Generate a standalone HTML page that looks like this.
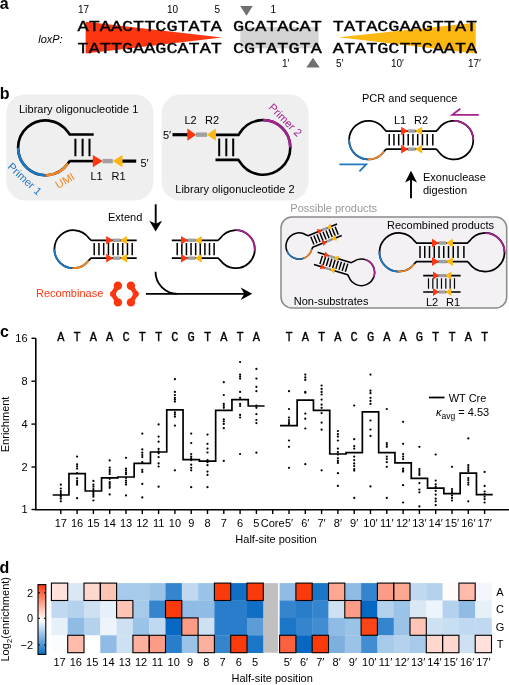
<!DOCTYPE html><html><head><meta charset="utf-8"><title>loxP library figure</title><style>html,body{margin:0;padding:0;background:#fff}svg{display:block}text{font-family:"Liberation Sans",Arial,sans-serif;font-size:11px;fill:#000}.m{font-family:"Liberation Mono","Courier New",monospace}.b{font-weight:bold;font-size:16px}</style></head><body>
<svg width="509" height="685" viewBox="0 0 509 685">
<rect width="509" height="685" fill="#fff"/>
<g id="pa">
<text class="b" x="-0.3" y="8.5">a</text>
<path d="M85.6,21.7L222,37.5L85.6,53.4Z" fill="#fc3610"/>
<rect x="240.3" y="27.2" width="78.3" height="21.1" fill="#d4d4d4"/>
<path d="M475.7,22.8L338.4,37.3L475.7,53.4Z" fill="#fcb711"/>
<text class="m" transform="translate(77.6,31.1) scale(1,0.84)" style="font-size:18.5px;stroke:#000;stroke-width:0.45px" xml:space="preserve">ATAACTTCGTATA GCATACAT TATACGAAGTTAT</text>
<text class="m" transform="translate(77.6,52.9) scale(1,0.84)" style="font-size:18.5px;stroke:#000;stroke-width:0.45px" xml:space="preserve">TATTGAAGCATAT CGTATGTA ATATGCTTCAATA</text>
<text x="38.2" y="43.2" style="font-size:11px;font-style:italic">loxP:</text>
<text x="78" y="12.5" style="font-size:10px">17</text>
<text x="167" y="12.5" style="font-size:10px">10</text>
<text x="214.5" y="12.5" style="font-size:10px">5</text>
<text x="270.5" y="12.5" style="font-size:10px">1</text>
<text x="282" y="66.5" style="font-size:10px">1′</text>
<text x="336" y="66.5" style="font-size:10px">5′</text>
<text x="391" y="66.5" style="font-size:10px">10′</text>
<text x="468" y="66.5" style="font-size:10px">17′</text>
<path d="M240.2,6H252.8L246.5,15.8Z" fill="#707070"/>
<path d="M306.3,67.6H319.7L313,57.8Z" fill="#707070"/>
</g>
<g id="pb">
<text class="b" x="-0.3" y="98.6">b</text>
<rect x="6.3" y="94.4" width="147.2" height="106.2" rx="19" fill="#f0eff0"/>
<rect x="161.6" y="94.4" width="147" height="106.2" rx="19" fill="#f0eff0"/>
<text x="19" y="113">Library oligonucleotide 1</text>
<text x="175.3" y="193">Library oligonucleotide 2</text>
<g transform="translate(45.5,147.8)">
<path d="M48.2,-13.3L24.2,-13.3L22.44,-15.72A27.4,27.4 0 1 0 22.44,15.72L24.2,13.3" stroke="#000" stroke-width="2.6" fill="none" stroke-linejoin="round"/>
<path d="M-27.4,0A27.4,27.4 0 0 0 0,27.4" stroke="#1f78c1" stroke-width="2.6" fill="none"/>
<path d="M0,27.4A27.4,27.4 0 0 0 22.44,15.72" stroke="#ee8a2a" stroke-width="2.6" fill="none"/>
<path d="M29.9,-9V8.5M37.1,-9V8.5M44,-9V8.5" stroke="#000" stroke-width="2.0" fill="none"/>
<path d="M23.7,13.3H48" stroke="#000" stroke-width="2.6"/>
<path d="M75,13.3H90.7" stroke="#000" stroke-width="3.2"/>
<path d="M47.3,7.2L57.3,13.3L47.3,19.4Z" fill="#fc3610"/><rect x="57" y="11.1" width="10.3" height="4.4" fill="#a0a0a0"/><path d="M77,7.2L67,13.3L77,19.4Z" fill="#fcb711"/>
</g>
<text x="90.5" y="180">L1</text><text x="111.5" y="180">R1</text>
<text x="140.5" y="167">5′</text>
<text transform="translate(7,167.5) rotate(43)" style="fill:#1f78c1">Primer 1</text>
<text transform="translate(58,189) rotate(-30)" style="fill:#ee8a2a">UMI</text>
<g transform="translate(263,147.4) scale(-1,1)">
<path d="M47.5,12.5L24.5,12.5L22.9,14.87A27.3,27.3 0 1 1 22.9,-14.87L24.5,-12.5L47.5,-12.5" stroke="#000" stroke-width="2.6" fill="none" stroke-linejoin="round"/>
<path d="M0,-27.3A27.3,27.3 0 0 0 -27.3,-0" stroke="#a3238e" stroke-width="2.6" fill="none"/>
<path d="M29.8,-8.8V8.8M36.7,-8.8V8.8M43.8,-8.8V8.8" stroke="#000" stroke-width="2.0" fill="none"/>
</g>
<path d="M172.5,134.7H188" stroke="#000" stroke-width="3.2"/>
<path d="M187.3,128.6L196.3,134.7L187.3,140.8Z" fill="#fc3610"/><rect x="196" y="132.5" width="11.1" height="4.4" fill="#a0a0a0"/><path d="M215.8,128.6L206.8,134.7L215.8,140.8Z" fill="#fcb711"/>
<text x="163" y="138.5">5′</text>
<text x="184.5" y="124">L2</text><text x="205" y="124">R2</text>
<text transform="translate(268,108) rotate(45)" style="fill:#a3238e">Primer 2</text>
<text x="108" y="221">Extend</text>
<path d="M155.7,204.3V224" stroke="#000" stroke-width="1.9"/><path d="M149.3,220.8L155.7,231.4L162.1,220.8L155.7,223.8Z" fill="#000"/>
<g transform="translate(73.4,249.2) rotate(0) scale(1,1)"><path d="M63.3,-8.95L17.66,-8.95L15.17,-11.43A19,19 0 1 0 15.17,11.43L17.66,8.95L63.3,8.95" stroke="#000" stroke-width="1.75" fill="none" stroke-linejoin="round"/><path d="M-19,0A19,19 0 0 0 -0.99,18.97" stroke="#1f78c1" stroke-width="1.75" fill="none"/><path d="M-0.99,18.97A19,19 0 0 0 15.17,11.43" stroke="#ee8a2a" stroke-width="1.75" fill="none"/><path d="M20.8,-6.2V6M25.55,-6.2V6M30.3,-6.2V6M35.05,-6.2V6M39.8,-6.2V6M44.55,-6.2V6M49.3,-6.2V6M54.05,-6.2V6M58.8,-6.2V6" stroke="#000" stroke-width="1.5" fill="none"/><path d="M32.8,-13.25L39.8,-8.95L32.8,-4.65Z" fill="#fc3610"/><rect x="39.5" y="-10.65" width="7.4" height="3.4" fill="#a0a0a0"/><path d="M53.6,-13.25L46.6,-8.95L53.6,-4.65Z" fill="#fcb711"/><path d="M32.8,4.65L39.8,8.95L32.8,13.25Z" fill="#fc3610"/><rect x="39.5" y="7.25" width="7.4" height="3.4" fill="#a0a0a0"/><path d="M53.6,4.65L46.6,8.95L53.6,13.25Z" fill="#fcb711"/></g>
<g transform="translate(235.8,249.2) rotate(0) scale(-1,1)"><path d="M64,-8.95L17.66,-8.95L15.17,-11.43A19,19 0 1 0 15.17,11.43L17.66,8.95L64,8.95" stroke="#000" stroke-width="1.75" fill="none" stroke-linejoin="round"/><path d="M0,-19A19,19 0 0 0 -18.93,1.66" stroke="#a3238e" stroke-width="1.75" fill="none"/><path d="M21.7,-6.2V6M26.31,-6.2V6M30.92,-6.2V6M35.53,-6.2V6M40.14,-6.2V6M44.75,-6.2V6M49.36,-6.2V6M53.97,-6.2V6M58.58,-6.2V6" stroke="#000" stroke-width="1.5" fill="none"/><g transform="translate(88.8,0) scale(-1,1)"><path d="M34,-13.25L41,-8.95L34,-4.65Z" fill="#fc3610"/><rect x="40.7" y="-10.65" width="7.4" height="3.4" fill="#a0a0a0"/><path d="M54.8,-13.25L47.8,-8.95L54.8,-4.65Z" fill="#fcb711"/><path d="M34,4.65L41,8.95L34,13.25Z" fill="#fc3610"/><rect x="40.7" y="7.25" width="7.4" height="3.4" fill="#a0a0a0"/><path d="M54.8,4.65L47.8,8.95L54.8,13.25Z" fill="#fcb711"/></g></g>
<text x="36" y="297.3" style="fill:#fc3610">Recombinase</text>
<g transform="translate(117.9,294.05) scale(1,1)" fill="#fc3610" stroke="none"><circle cx="0" cy="-8.35" r="4.2"/><circle cx="0" cy="8.35" r="4.2"/><path d="M0,-8.35L-5.1,0L0,8.35" stroke="#fc3610" stroke-width="4.6" fill="none" stroke-linecap="round" stroke-linejoin="round"/><circle cx="-4.9" cy="0" r="3"/></g>
<g transform="translate(130.9,294.05) scale(-1,1)" fill="#fc3610" stroke="none"><circle cx="0" cy="-8.35" r="4.2"/><circle cx="0" cy="8.35" r="4.2"/><path d="M0,-8.35L-5.1,0L0,8.35" stroke="#fc3610" stroke-width="4.6" fill="none" stroke-linecap="round" stroke-linejoin="round"/><circle cx="-4.9" cy="0" r="3"/></g>
<path d="M155.5,271.8A22,22 0 0 0 177.5,293.8" stroke="#000" stroke-width="1.8" fill="none"/>
<path d="M145.9,293.8H245" stroke="#000" stroke-width="1.8" fill="none"/>
<path d="M240.7,287.5L252.2,293.8L240.7,300.1L244.3,293.8Z" fill="#000"/>
<text x="362" y="102.4">PCR and sequence</text>
<g transform="translate(0,140.1)"><path d="M384.21,-11.07A19.3,19.3 0 1 0 384.21,11.07L386.23,9.05L436.17,9.05L438.19,11.07A19.3,19.3 0 1 0 438.19,-11.07L436.17,-9.05L386.23,-9.05Z" stroke="#000" stroke-width="1.75" fill="none" stroke-linejoin="round"/><g transform="translate(368.4,0)"><path d="M-19.27,-1.01A19.3,19.3 0 0 0 -0.67,19.29" stroke="#1f78c1" stroke-width="1.75" fill="none"/><path d="M-0.67,19.29A19.3,19.3 0 0 0 15.81,11.07" stroke="#ee8a2a" stroke-width="1.75" fill="none"/></g><g transform="translate(454,0)"><path d="M0,-19.3A19.3,19.3 0 0 1 19.3,0" stroke="#a3238e" stroke-width="1.75" fill="none"/></g><path d="M389.2,-6V5.4M393.95,-6V5.4M398.7,-6V5.4M403.45,-6V5.4M408.2,-6V5.4M412.95,-6V5.4M417.7,-6V5.4M422.45,-6V5.4M427.2,-6V5.4M432.8,-6V5.4" stroke="#000" stroke-width="1.5" fill="none"/><path d="M401.2,-13.35L408.2,-9.05L401.2,-4.75Z" fill="#fc3610"/><rect x="407.9" y="-10.75" width="7.5" height="3.4" fill="#a0a0a0"/><path d="M422.1,-13.35L415.1,-9.05L422.1,-4.75Z" fill="#fcb711"/><path d="M401.2,4.75L408.2,9.05L401.2,13.35Z" fill="#fc3610"/><rect x="407.9" y="7.35" width="7.5" height="3.4" fill="#a0a0a0"/><path d="M422.1,4.75L415.1,9.05L422.1,13.35Z" fill="#fcb711"/></g>
<text x="394" y="123.6">L1</text><text x="414" y="123.6">R2</text>
<path d="M478.8,114.8H452.3L460.3,108.7" stroke="#a3238e" stroke-width="1.8" fill="none"/>
<path d="M339.4,164.4H366.2L359.4,171.3" stroke="#1f78c1" stroke-width="1.8" fill="none"/>
<path d="M411,198.3V178" stroke="#000" stroke-width="1.9"/><path d="M405,182.6L411,170.7L417,182.6L411,179.4Z" fill="#000"/>
<text x="423" y="180.8">Exonuclease</text><text x="423" y="194">digestion</text>
<text x="290.3" y="212" style="fill:#999">Possible products</text>
<rect x="281" y="217" width="225.7" height="91" rx="11" fill="#f3f1f4" stroke="#8a8a8a" stroke-width="1.5"/>
<text x="387" y="229">Recombined products</text>
<text x="293.8" y="304.5">Non-substrates</text>
<text x="426" y="305.5">L2</text><text x="446" y="305.5">R1</text>
<g transform="translate(299.1,246) rotate(-22) scale(0.69,0.69)"><path d="M63,-9L17.61,-9L15.17,-11.43A19,19 0 1 0 15.17,11.43L17.61,9L63,9" stroke="#000" stroke-width="2.2" fill="none" stroke-linejoin="round"/><path d="M-19,0A19,19 0 0 0 -0.99,18.97" stroke="#1f78c1" stroke-width="2.2" fill="none"/><path d="M-0.99,18.97A19,19 0 0 0 15.17,11.43" stroke="#ee8a2a" stroke-width="2.2" fill="none"/><path d="M20.8,-6.2V6M25.55,-6.2V6M30.3,-6.2V6M35.05,-6.2V6M39.8,-6.2V6M44.55,-6.2V6M49.3,-6.2V6M54.05,-6.2V6M58.8,-6.2V6" stroke="#000" stroke-width="2.1" fill="none"/><path d="M33,-13.3L40,-9L33,-4.7Z" fill="#fc3610"/><rect x="39.7" y="-10.7" width="7.4" height="3.4" fill="#a0a0a0"/><path d="M53.8,-13.3L46.8,-9L53.8,-4.7Z" fill="#fcb711"/><path d="M33,4.7L40,9L33,13.3Z" fill="#fc3610"/><rect x="39.7" y="7.3" width="7.4" height="3.4" fill="#a0a0a0"/><path d="M53.8,4.7L46.8,9L53.8,13.3Z" fill="#fcb711"/></g>
<g transform="translate(361.3,272.3) rotate(17) scale(-0.7,0.7)"><path d="M68,-9L17.61,-9L15.17,-11.43A19,19 0 1 0 15.17,11.43L17.61,9L68,9" stroke="#000" stroke-width="2.2" fill="none" stroke-linejoin="round"/><path d="M0,-19A19,19 0 0 0 -18.93,1.66" stroke="#a3238e" stroke-width="2.2" fill="none"/><path d="M22,-6.2V6M26.75,-6.2V6M31.5,-6.2V6M36.25,-6.2V6M41,-6.2V6M45.75,-6.2V6M50.5,-6.2V6M55.25,-6.2V6M60,-6.2V6" stroke="#000" stroke-width="2.1" fill="none"/><g transform="translate(94.8,0) scale(-1,1)"><path d="M37,-13.3L44,-9L37,-4.7Z" fill="#fc3610"/><rect x="43.7" y="-10.7" width="7.4" height="3.4" fill="#a0a0a0"/><path d="M57.8,-13.3L50.8,-9L57.8,-4.7Z" fill="#fcb711"/><path d="M37,4.7L44,9L37,13.3Z" fill="#fc3610"/><rect x="43.7" y="7.3" width="7.4" height="3.4" fill="#a0a0a0"/><path d="M57.8,4.7L50.8,9L57.8,13.3Z" fill="#fcb711"/></g></g>
<g transform="translate(0,252.3)"><path d="M414.41,-11.34A19.3,19.3 0 1 0 414.41,11.34L416.46,9.3L467.54,9.3L469.59,11.34A19.3,19.3 0 1 0 469.59,-11.34L467.54,-9.3L416.46,-9.3Z" stroke="#000" stroke-width="1.75" fill="none" stroke-linejoin="round"/><g transform="translate(398.8,0)"><path d="M-19.27,-1.01A19.3,19.3 0 0 0 -0.67,19.29" stroke="#1f78c1" stroke-width="1.75" fill="none"/><path d="M-0.67,19.29A19.3,19.3 0 0 0 15.61,11.34" stroke="#ee8a2a" stroke-width="1.75" fill="none"/></g><g transform="translate(485.2,0)"><path d="M0,-19.3A19.3,19.3 0 0 1 19.3,0" stroke="#a3238e" stroke-width="1.75" fill="none"/></g><path d="M420,-6.2V5.6M424.75,-6.2V5.6M429.5,-6.2V5.6M434.25,-6.2V5.6M439,-6.2V5.6M443.75,-6.2V5.6M448.5,-6.2V5.6M453.25,-6.2V5.6M458,-6.2V5.6M463.9,-6.2V5.6" stroke="#000" stroke-width="1.5" fill="none"/><path d="M432,-13.6L439,-9.3L432,-5Z" fill="#fc3610"/><rect x="438.7" y="-11" width="7.5" height="3.4" fill="#a0a0a0"/><path d="M452.9,-13.6L445.9,-9.3L452.9,-5Z" fill="#fcb711"/><path d="M432,5L439,9.3L432,13.6Z" fill="#fc3610"/><rect x="438.7" y="7.6" width="7.5" height="3.4" fill="#a0a0a0"/><path d="M452.9,5L445.9,9.3L452.9,13.6Z" fill="#fcb711"/></g>
<g transform="translate(0,283.8)">
<path d="M423.2,-8.2H460.6M423.2,8.2H460.6" stroke="#000" stroke-width="1.6"/>
<path d="M428.5,-5.5V5M432.83,-5.5V5M437.16,-5.5V5M441.49,-5.5V5M445.82,-5.5V5M450.15,-5.5V5M454.48,-5.5V5" stroke="#000" stroke-width="1.2" fill="none"/>
<path d="M433,-12.3L439,-8.2L433,-4.1Z" fill="#fc3610"/><rect x="438.7" y="-9.8" width="7" height="3.2" fill="#a0a0a0"/><path d="M451.4,-12.3L445.4,-8.2L451.4,-4.1Z" fill="#fcb711"/><path d="M433,4.1L439,8.2L433,12.3Z" fill="#fc3610"/><rect x="438.7" y="6.6" width="7" height="3.2" fill="#a0a0a0"/><path d="M451.4,4.1L445.4,8.2L451.4,12.3Z" fill="#fcb711"/>
</g>
</g>
<g id="pc">
<text class="b" x="-0.1" y="337.4">c</text>
<path d="M35.8,338.3V509.7H509" stroke="#000" stroke-width="1.6" fill="none"/>
<path d="M31.5,338.3H35.8" stroke="#000" stroke-width="1.4"/>
<text x="27.6" y="342.2" text-anchor="end">16</text>
<path d="M31.5,381.2H35.8" stroke="#000" stroke-width="1.4"/>
<text x="27.6" y="385.09999999999997" text-anchor="end">8</text>
<path d="M31.5,424.1H35.8" stroke="#000" stroke-width="1.4"/>
<text x="27.6" y="428.0" text-anchor="end">4</text>
<path d="M31.5,467H35.8" stroke="#000" stroke-width="1.4"/>
<text x="27.6" y="470.9" text-anchor="end">2</text>
<path d="M31.5,509.5H35.8" stroke="#000" stroke-width="1.4"/>
<text x="27.6" y="513.4" text-anchor="end">1</text>
<text transform="translate(8.7,424.4) rotate(-90)" text-anchor="middle">Enrichment</text>
<path d="M60.8,509.5V514" stroke="#000" stroke-width="1.4"/>
<text x="60.8" y="527.3" text-anchor="middle">17</text>
<path d="M77.1,509.5V514" stroke="#000" stroke-width="1.4"/>
<text x="77.1" y="527.3" text-anchor="middle">16</text>
<path d="M93.4,509.5V514" stroke="#000" stroke-width="1.4"/>
<text x="93.4" y="527.3" text-anchor="middle">15</text>
<path d="M109.7,509.5V514" stroke="#000" stroke-width="1.4"/>
<text x="109.7" y="527.3" text-anchor="middle">14</text>
<path d="M126,509.5V514" stroke="#000" stroke-width="1.4"/>
<text x="126" y="527.3" text-anchor="middle">13</text>
<path d="M142.3,509.5V514" stroke="#000" stroke-width="1.4"/>
<text x="142.3" y="527.3" text-anchor="middle">12</text>
<path d="M158.6,509.5V514" stroke="#000" stroke-width="1.4"/>
<text x="158.6" y="527.3" text-anchor="middle">11</text>
<path d="M174.9,509.5V514" stroke="#000" stroke-width="1.4"/>
<text x="174.9" y="527.3" text-anchor="middle">10</text>
<path d="M191.2,509.5V514" stroke="#000" stroke-width="1.4"/>
<text x="191.2" y="527.3" text-anchor="middle">9</text>
<path d="M207.5,509.5V514" stroke="#000" stroke-width="1.4"/>
<text x="207.5" y="527.3" text-anchor="middle">8</text>
<path d="M223.8,509.5V514" stroke="#000" stroke-width="1.4"/>
<text x="223.8" y="527.3" text-anchor="middle">7</text>
<path d="M240.1,509.5V514" stroke="#000" stroke-width="1.4"/>
<text x="240.1" y="527.3" text-anchor="middle">6</text>
<path d="M256.4,509.5V514" stroke="#000" stroke-width="1.4"/>
<text x="256.4" y="527.3" text-anchor="middle">5</text>
<path d="M272.7,509.5V514" stroke="#000" stroke-width="1.4"/>
<text x="272.7" y="527.3" text-anchor="middle">Core</text>
<path d="M289,509.5V514" stroke="#000" stroke-width="1.4"/>
<text x="289" y="527.3" text-anchor="middle">5′</text>
<path d="M305.3,509.5V514" stroke="#000" stroke-width="1.4"/>
<text x="305.3" y="527.3" text-anchor="middle">6′</text>
<path d="M321.6,509.5V514" stroke="#000" stroke-width="1.4"/>
<text x="321.6" y="527.3" text-anchor="middle">7′</text>
<path d="M337.9,509.5V514" stroke="#000" stroke-width="1.4"/>
<text x="337.9" y="527.3" text-anchor="middle">8′</text>
<path d="M354.2,509.5V514" stroke="#000" stroke-width="1.4"/>
<text x="354.2" y="527.3" text-anchor="middle">9′</text>
<path d="M370.5,509.5V514" stroke="#000" stroke-width="1.4"/>
<text x="370.5" y="527.3" text-anchor="middle">10′</text>
<path d="M386.8,509.5V514" stroke="#000" stroke-width="1.4"/>
<text x="386.8" y="527.3" text-anchor="middle">11′</text>
<path d="M403.1,509.5V514" stroke="#000" stroke-width="1.4"/>
<text x="403.1" y="527.3" text-anchor="middle">12′</text>
<path d="M419.4,509.5V514" stroke="#000" stroke-width="1.4"/>
<text x="419.4" y="527.3" text-anchor="middle">13′</text>
<path d="M435.7,509.5V514" stroke="#000" stroke-width="1.4"/>
<text x="435.7" y="527.3" text-anchor="middle">14′</text>
<path d="M452,509.5V514" stroke="#000" stroke-width="1.4"/>
<text x="452" y="527.3" text-anchor="middle">15′</text>
<path d="M468.3,509.5V514" stroke="#000" stroke-width="1.4"/>
<text x="468.3" y="527.3" text-anchor="middle">16′</text>
<path d="M484.6,509.5V514" stroke="#000" stroke-width="1.4"/>
<text x="484.6" y="527.3" text-anchor="middle">17′</text>
<text x="276" y="543" text-anchor="middle">Half-site position</text>
<text class="m" x="60.8" y="341" text-anchor="middle" style="font-size:12px;stroke:#000;stroke-width:0.3px">A</text>
<text class="m" x="77.1" y="341" text-anchor="middle" style="font-size:12px;stroke:#000;stroke-width:0.3px">T</text>
<text class="m" x="93.4" y="341" text-anchor="middle" style="font-size:12px;stroke:#000;stroke-width:0.3px">A</text>
<text class="m" x="109.7" y="341" text-anchor="middle" style="font-size:12px;stroke:#000;stroke-width:0.3px">A</text>
<text class="m" x="126" y="341" text-anchor="middle" style="font-size:12px;stroke:#000;stroke-width:0.3px">C</text>
<text class="m" x="142.3" y="341" text-anchor="middle" style="font-size:12px;stroke:#000;stroke-width:0.3px">T</text>
<text class="m" x="158.6" y="341" text-anchor="middle" style="font-size:12px;stroke:#000;stroke-width:0.3px">T</text>
<text class="m" x="174.9" y="341" text-anchor="middle" style="font-size:12px;stroke:#000;stroke-width:0.3px">C</text>
<text class="m" x="191.2" y="341" text-anchor="middle" style="font-size:12px;stroke:#000;stroke-width:0.3px">G</text>
<text class="m" x="207.5" y="341" text-anchor="middle" style="font-size:12px;stroke:#000;stroke-width:0.3px">T</text>
<text class="m" x="223.8" y="341" text-anchor="middle" style="font-size:12px;stroke:#000;stroke-width:0.3px">A</text>
<text class="m" x="240.1" y="341" text-anchor="middle" style="font-size:12px;stroke:#000;stroke-width:0.3px">T</text>
<text class="m" x="256.4" y="341" text-anchor="middle" style="font-size:12px;stroke:#000;stroke-width:0.3px">A</text>
<text class="m" x="289" y="341" text-anchor="middle" style="font-size:12px;stroke:#000;stroke-width:0.3px">T</text>
<text class="m" x="305.3" y="341" text-anchor="middle" style="font-size:12px;stroke:#000;stroke-width:0.3px">A</text>
<text class="m" x="321.6" y="341" text-anchor="middle" style="font-size:12px;stroke:#000;stroke-width:0.3px">T</text>
<text class="m" x="337.9" y="341" text-anchor="middle" style="font-size:12px;stroke:#000;stroke-width:0.3px">A</text>
<text class="m" x="354.2" y="341" text-anchor="middle" style="font-size:12px;stroke:#000;stroke-width:0.3px">C</text>
<text class="m" x="370.5" y="341" text-anchor="middle" style="font-size:12px;stroke:#000;stroke-width:0.3px">G</text>
<text class="m" x="386.8" y="341" text-anchor="middle" style="font-size:12px;stroke:#000;stroke-width:0.3px">A</text>
<text class="m" x="403.1" y="341" text-anchor="middle" style="font-size:12px;stroke:#000;stroke-width:0.3px">A</text>
<text class="m" x="419.4" y="341" text-anchor="middle" style="font-size:12px;stroke:#000;stroke-width:0.3px">G</text>
<text class="m" x="435.7" y="341" text-anchor="middle" style="font-size:12px;stroke:#000;stroke-width:0.3px">T</text>
<text class="m" x="452" y="341" text-anchor="middle" style="font-size:12px;stroke:#000;stroke-width:0.3px">T</text>
<text class="m" x="468.3" y="341" text-anchor="middle" style="font-size:12px;stroke:#000;stroke-width:0.3px">A</text>
<text class="m" x="484.6" y="341" text-anchor="middle" style="font-size:12px;stroke:#000;stroke-width:0.3px">T</text>
<path d="M52.65,495H68.95V473.7H85.25V491H101.55V477.8H117.85V477H134.15V463.4H150.45V452H166.75V409.8H183.05V459.6H199.35V461.1H215.65V410.3H231.95V399.6H248.25V406H264.55M279.95,425.6H297.15V400.1H313.45V410.3H329.75V454H346.05V452.7H362.35V411.9H378.65V452.7H394.95V462.9H411.25V478.3H427.55V488.2H443.85V493.6H460.15V473.2H476.45V494.6H492.75" stroke="#000" stroke-width="1.7" fill="none" stroke-linejoin="miter"/>
<g fill="#000"><circle cx="60.8" cy="484.7" r="1.12"/><circle cx="60.8" cy="488.5" r="1.12"/><circle cx="60.8" cy="491.1" r="1.12"/><circle cx="60.8" cy="493.1" r="1.12"/><circle cx="60.8" cy="494.9" r="1.12"/><circle cx="60.8" cy="496.7" r="1.12"/><circle cx="60.8" cy="498.7" r="1.12"/><circle cx="60.8" cy="501.3" r="1.12"/><circle cx="77.1" cy="456.6" r="1.12"/><circle cx="77.1" cy="464.3" r="1.12"/><circle cx="77.1" cy="466.3" r="1.12"/><circle cx="77.1" cy="468.6" r="1.12"/><circle cx="77.1" cy="473.2" r="1.12"/><circle cx="77.1" cy="478.3" r="1.12"/><circle cx="77.1" cy="480.9" r="1.12"/><circle cx="77.1" cy="482.9" r="1.12"/><circle cx="77.1" cy="484.7" r="1.12"/><circle cx="77.1" cy="498.2" r="1.12"/><circle cx="93.4" cy="480.9" r="1.12"/><circle cx="93.4" cy="484.7" r="1.12"/><circle cx="93.4" cy="486.7" r="1.12"/><circle cx="93.4" cy="489" r="1.12"/><circle cx="93.4" cy="491.1" r="1.12"/><circle cx="93.4" cy="492.9" r="1.12"/><circle cx="93.4" cy="494.9" r="1.12"/><circle cx="93.4" cy="496.7" r="1.12"/><circle cx="93.4" cy="500.5" r="1.12"/><circle cx="109.7" cy="460.4" r="1.12"/><circle cx="109.7" cy="467.6" r="1.12"/><circle cx="109.7" cy="469.9" r="1.12"/><circle cx="109.7" cy="471.9" r="1.12"/><circle cx="109.7" cy="474" r="1.12"/><circle cx="109.7" cy="478.8" r="1.12"/><circle cx="109.7" cy="482.1" r="1.12"/><circle cx="109.7" cy="483.9" r="1.12"/><circle cx="109.7" cy="486" r="1.12"/><circle cx="109.7" cy="487.8" r="1.12"/><circle cx="109.7" cy="494.4" r="1.12"/><circle cx="126" cy="457.8" r="1.12"/><circle cx="126" cy="468.6" r="1.12"/><circle cx="126" cy="470.3" r="1.12"/><circle cx="126" cy="472.4" r="1.12"/><circle cx="126" cy="474.2" r="1.12"/><circle cx="126" cy="478" r="1.12"/><circle cx="126" cy="480.6" r="1.12"/><circle cx="126" cy="482.6" r="1.12"/><circle cx="126" cy="484.6" r="1.12"/><circle cx="126" cy="495.4" r="1.12"/><circle cx="142.3" cy="433.6" r="1.12"/><circle cx="142.3" cy="449.4" r="1.12"/><circle cx="142.3" cy="452.7" r="1.12"/><circle cx="142.3" cy="455" r="1.12"/><circle cx="142.3" cy="457.1" r="1.12"/><circle cx="142.3" cy="462.2" r="1.12"/><circle cx="142.3" cy="469.8" r="1.12"/><circle cx="142.3" cy="471.9" r="1.12"/><circle cx="142.3" cy="483.9" r="1.12"/><circle cx="142.3" cy="497.4" r="1.12"/><circle cx="158.6" cy="424.4" r="1.12"/><circle cx="158.6" cy="436.6" r="1.12"/><circle cx="158.6" cy="441.7" r="1.12"/><circle cx="158.6" cy="448.9" r="1.12"/><circle cx="158.6" cy="451.4" r="1.12"/><circle cx="158.6" cy="453.2" r="1.12"/><circle cx="158.6" cy="457.1" r="1.12"/><circle cx="158.6" cy="463.4" r="1.12"/><circle cx="158.6" cy="466.5" r="1.12"/><circle cx="158.6" cy="486.7" r="1.12"/><circle cx="174.9" cy="379.2" r="1.12"/><circle cx="174.9" cy="391.9" r="1.12"/><circle cx="174.9" cy="395" r="1.12"/><circle cx="174.9" cy="397.8" r="1.12"/><circle cx="174.9" cy="399.6" r="1.12"/><circle cx="174.9" cy="401.6" r="1.12"/><circle cx="174.9" cy="412.4" r="1.12"/><circle cx="174.9" cy="414.4" r="1.12"/><circle cx="174.9" cy="416.7" r="1.12"/><circle cx="174.9" cy="425.6" r="1.12"/><circle cx="174.9" cy="470.3" r="1.12"/><circle cx="191.2" cy="433.6" r="1.12"/><circle cx="191.2" cy="443" r="1.12"/><circle cx="191.2" cy="454" r="1.12"/><circle cx="191.2" cy="456.6" r="1.12"/><circle cx="191.2" cy="458.3" r="1.12"/><circle cx="191.2" cy="460.1" r="1.12"/><circle cx="191.2" cy="464.7" r="1.12"/><circle cx="191.2" cy="467.8" r="1.12"/><circle cx="191.2" cy="470.3" r="1.12"/><circle cx="191.2" cy="487.2" r="1.12"/><circle cx="207.5" cy="434.6" r="1.12"/><circle cx="207.5" cy="443.8" r="1.12"/><circle cx="207.5" cy="448.6" r="1.12"/><circle cx="207.5" cy="452.5" r="1.12"/><circle cx="207.5" cy="460.1" r="1.12"/><circle cx="207.5" cy="462.2" r="1.12"/><circle cx="207.5" cy="465.2" r="1.12"/><circle cx="207.5" cy="471.6" r="1.12"/><circle cx="207.5" cy="474.9" r="1.12"/><circle cx="207.5" cy="487.2" r="1.12"/><circle cx="223.8" cy="382.2" r="1.12"/><circle cx="223.8" cy="395" r="1.12"/><circle cx="223.8" cy="403.9" r="1.12"/><circle cx="223.8" cy="406" r="1.12"/><circle cx="223.8" cy="407.8" r="1.12"/><circle cx="223.8" cy="419.3" r="1.12"/><circle cx="223.8" cy="421.3" r="1.12"/><circle cx="223.8" cy="423.9" r="1.12"/><circle cx="223.8" cy="428.2" r="1.12"/><circle cx="223.8" cy="460.9" r="1.12"/><circle cx="240.1" cy="362" r="1.12"/><circle cx="240.1" cy="374.6" r="1.12"/><circle cx="240.1" cy="376.6" r="1.12"/><circle cx="240.1" cy="378.6" r="1.12"/><circle cx="240.1" cy="391.9" r="1.12"/><circle cx="240.1" cy="397.8" r="1.12"/><circle cx="240.1" cy="403.9" r="1.12"/><circle cx="240.1" cy="406" r="1.12"/><circle cx="240.1" cy="414.9" r="1.12"/><circle cx="240.1" cy="417.5" r="1.12"/><circle cx="240.1" cy="454" r="1.12"/><circle cx="256.4" cy="368.9" r="1.12"/><circle cx="256.4" cy="378.6" r="1.12"/><circle cx="256.4" cy="386.8" r="1.12"/><circle cx="256.4" cy="391.2" r="1.12"/><circle cx="256.4" cy="405.5" r="1.12"/><circle cx="256.4" cy="407.8" r="1.12"/><circle cx="256.4" cy="414.2" r="1.12"/><circle cx="256.4" cy="420" r="1.12"/><circle cx="256.4" cy="423.1" r="1.12"/><circle cx="256.4" cy="452.7" r="1.12"/><circle cx="289" cy="391.2" r="1.12"/><circle cx="289" cy="409" r="1.12"/><circle cx="289" cy="417.5" r="1.12"/><circle cx="289" cy="420" r="1.12"/><circle cx="289" cy="422.1" r="1.12"/><circle cx="289" cy="423.9" r="1.12"/><circle cx="289" cy="440.5" r="1.12"/><circle cx="289" cy="446.8" r="1.12"/><circle cx="289" cy="467.8" r="1.12"/><circle cx="305.3" cy="374.6" r="1.12"/><circle cx="305.3" cy="377.4" r="1.12"/><circle cx="305.3" cy="379.9" r="1.12"/><circle cx="305.3" cy="391.9" r="1.12"/><circle cx="305.3" cy="392.7" r="1.12"/><circle cx="305.3" cy="413.6" r="1.12"/><circle cx="305.3" cy="418.7" r="1.12"/><circle cx="305.3" cy="428.5" r="1.12"/><circle cx="305.3" cy="464.2" r="1.12"/><circle cx="321.6" cy="385.5" r="1.12"/><circle cx="321.6" cy="388.9" r="1.12"/><circle cx="321.6" cy="391.9" r="1.12"/><circle cx="321.6" cy="394.5" r="1.12"/><circle cx="321.6" cy="399.6" r="1.12"/><circle cx="321.6" cy="404.7" r="1.12"/><circle cx="321.6" cy="407.8" r="1.12"/><circle cx="321.6" cy="413.1" r="1.12"/><circle cx="321.6" cy="422.6" r="1.12"/><circle cx="321.6" cy="429.7" r="1.12"/><circle cx="321.6" cy="470.3" r="1.12"/><circle cx="337.9" cy="431" r="1.12"/><circle cx="337.9" cy="434.1" r="1.12"/><circle cx="337.9" cy="436.6" r="1.12"/><circle cx="337.9" cy="440.5" r="1.12"/><circle cx="337.9" cy="448.6" r="1.12"/><circle cx="337.9" cy="452" r="1.12"/><circle cx="337.9" cy="454.5" r="1.12"/><circle cx="337.9" cy="458.3" r="1.12"/><circle cx="337.9" cy="460.9" r="1.12"/><circle cx="337.9" cy="462.9" r="1.12"/><circle cx="337.9" cy="473.2" r="1.12"/><circle cx="337.9" cy="485.9" r="1.12"/><circle cx="354.2" cy="405.5" r="1.12"/><circle cx="354.2" cy="439.2" r="1.12"/><circle cx="354.2" cy="446.1" r="1.12"/><circle cx="354.2" cy="448.6" r="1.12"/><circle cx="354.2" cy="456.6" r="1.12"/><circle cx="354.2" cy="460.1" r="1.12"/><circle cx="354.2" cy="463.4" r="1.12"/><circle cx="354.2" cy="466" r="1.12"/><circle cx="354.2" cy="469.1" r="1.12"/><circle cx="354.2" cy="470.6" r="1.12"/><circle cx="354.2" cy="497.9" r="1.12"/><circle cx="370.5" cy="374.6" r="1.12"/><circle cx="370.5" cy="390.7" r="1.12"/><circle cx="370.5" cy="393.2" r="1.12"/><circle cx="370.5" cy="397.8" r="1.12"/><circle cx="370.5" cy="400.9" r="1.12"/><circle cx="370.5" cy="403.9" r="1.12"/><circle cx="370.5" cy="420.5" r="1.12"/><circle cx="370.5" cy="429.5" r="1.12"/><circle cx="370.5" cy="435.9" r="1.12"/><circle cx="370.5" cy="486.4" r="1.12"/><circle cx="386.8" cy="409" r="1.12"/><circle cx="386.8" cy="443" r="1.12"/><circle cx="386.8" cy="444.8" r="1.12"/><circle cx="386.8" cy="446.8" r="1.12"/><circle cx="386.8" cy="456.6" r="1.12"/><circle cx="386.8" cy="459.1" r="1.12"/><circle cx="386.8" cy="462.2" r="1.12"/><circle cx="386.8" cy="466.8" r="1.12"/><circle cx="386.8" cy="497.9" r="1.12"/><circle cx="403.1" cy="421.8" r="1.12"/><circle cx="403.1" cy="443.8" r="1.12"/><circle cx="403.1" cy="454" r="1.12"/><circle cx="403.1" cy="456.6" r="1.12"/><circle cx="403.1" cy="459.1" r="1.12"/><circle cx="403.1" cy="468.6" r="1.12"/><circle cx="403.1" cy="470.3" r="1.12"/><circle cx="403.1" cy="471.6" r="1.12"/><circle cx="403.1" cy="485.2" r="1.12"/><circle cx="403.1" cy="502.5" r="1.12"/><circle cx="419.4" cy="446.8" r="1.12"/><circle cx="419.4" cy="469.1" r="1.12"/><circle cx="419.4" cy="471.1" r="1.12"/><circle cx="419.4" cy="473.2" r="1.12"/><circle cx="419.4" cy="474.9" r="1.12"/><circle cx="419.4" cy="483.1" r="1.12"/><circle cx="419.4" cy="489.5" r="1.12"/><circle cx="419.4" cy="492.3" r="1.12"/><circle cx="419.4" cy="506.4" r="1.12"/><circle cx="435.7" cy="454.5" r="1.12"/><circle cx="435.7" cy="480.6" r="1.12"/><circle cx="435.7" cy="484.4" r="1.12"/><circle cx="435.7" cy="486.9" r="1.12"/><circle cx="435.7" cy="490.8" r="1.12"/><circle cx="435.7" cy="494.6" r="1.12"/><circle cx="435.7" cy="498.7" r="1.12"/><circle cx="435.7" cy="501.3" r="1.12"/><circle cx="435.7" cy="505.1" r="1.12"/><circle cx="452" cy="466.8" r="1.12"/><circle cx="452" cy="489" r="1.12"/><circle cx="452" cy="491" r="1.12"/><circle cx="452" cy="492.8" r="1.12"/><circle cx="452" cy="495.4" r="1.12"/><circle cx="452" cy="497.9" r="1.12"/><circle cx="452" cy="500.5" r="1.12"/><circle cx="468.3" cy="438.4" r="1.12"/><circle cx="468.3" cy="465.2" r="1.12"/><circle cx="468.3" cy="467.3" r="1.12"/><circle cx="468.3" cy="469.3" r="1.12"/><circle cx="468.3" cy="471.1" r="1.12"/><circle cx="468.3" cy="478" r="1.12"/><circle cx="468.3" cy="480.1" r="1.12"/><circle cx="468.3" cy="482.6" r="1.12"/><circle cx="468.3" cy="484.6" r="1.12"/><circle cx="468.3" cy="501.3" r="1.12"/><circle cx="484.6" cy="471.9" r="1.12"/><circle cx="484.6" cy="485.9" r="1.12"/><circle cx="484.6" cy="491.5" r="1.12"/><circle cx="484.6" cy="494.1" r="1.12"/><circle cx="484.6" cy="496.7" r="1.12"/><circle cx="484.6" cy="499.2" r="1.12"/><circle cx="484.6" cy="502.5" r="1.12"/></g>
<path d="M429,397.5H444.5" stroke="#000" stroke-width="1.8"/>
<text x="448.7" y="401.5">WT Cre</text>
<text x="436" y="415.5"><tspan style="font-style:italic">κ</tspan><tspan dy="3" style="font-size:8.5px">avg</tspan><tspan dy="-3"> = 4.53</tspan></text>
</g>
<g id="pd">
<text class="b" x="-0.4" y="573.2">d</text>
<defs><linearGradient id="cb" x1="0" y1="0" x2="0" y2="1"><stop offset="0" stop-color="#fb3a0c"/><stop offset="0.5" stop-color="#ffffff"/><stop offset="1" stop-color="#0a6ec4"/></linearGradient></defs>
<rect x="38" y="584.6" width="7.8" height="69.8" fill="url(#cb)" stroke="#000" stroke-width="1.1"/>
<path d="M38.2,592.8H40M44,592.8H45.8" stroke="#000" stroke-width="1"/>
<text x="33" y="596.6999999999999" text-anchor="end">2</text>
<path d="M38.2,618.3H40M44,618.3H45.8" stroke="#000" stroke-width="1"/>
<text x="33" y="622.1999999999999" text-anchor="end">0</text>
<path d="M38.2,644.9H40M44,644.9H45.8" stroke="#000" stroke-width="1"/>
<text x="33" y="648.8" text-anchor="end">−2</text>
<text transform="translate(9.3,619.3) rotate(-90)" text-anchor="middle">Log<tspan dy="2.5" style="font-size:8px">2</tspan><tspan dy="-2.5">(enrichment)</tspan></text>
<text x="500" y="595.8" text-anchor="middle">A</text>
<text x="500" y="613.2" text-anchor="middle">C</text>
<text x="500" y="630.6" text-anchor="middle">G</text>
<text x="500" y="648" text-anchor="middle">T</text>
<rect x="51.4" y="583.1" width="16.6" height="17.7" fill="#fee1db"/><rect x="67.7" y="583.1" width="16.6" height="17.7" fill="#dae8f6"/><rect x="84" y="583.1" width="16.6" height="17.7" fill="#fed8ce"/><rect x="100.3" y="583.1" width="16.6" height="17.7" fill="#fec4b6"/><rect x="116.6" y="583.1" width="16.6" height="17.7" fill="#a8caea"/><rect x="132.9" y="583.1" width="16.6" height="17.7" fill="#a8caea"/><rect x="149.2" y="583.1" width="16.6" height="17.7" fill="#9bc3e7"/><rect x="165.5" y="583.1" width="16.6" height="17.7" fill="#3585ce"/><rect x="181.8" y="583.1" width="16.6" height="17.7" fill="#c1d9f0"/><rect x="198.1" y="583.1" width="16.6" height="17.7" fill="#9bc3e7"/><rect x="214.4" y="583.1" width="16.6" height="17.7" fill="#fb3a0c"/><rect x="230.7" y="583.1" width="16.6" height="17.7" fill="#106ec4"/><rect x="247" y="583.1" width="16.6" height="17.7" fill="#fb3a0c"/><rect x="279.6" y="583.1" width="16.6" height="17.7" fill="#8fbbe4"/><rect x="295.9" y="583.1" width="16.6" height="17.7" fill="#fb3a0c"/><rect x="312.2" y="583.1" width="16.6" height="17.7" fill="#1c76c7"/><rect x="328.5" y="583.1" width="16.6" height="17.7" fill="#fda692"/><rect x="344.8" y="583.1" width="16.6" height="17.7" fill="#8fbbe4"/><rect x="361.1" y="583.1" width="16.6" height="17.7" fill="#3585ce"/><rect x="377.4" y="583.1" width="16.6" height="17.7" fill="#fd9c86"/><rect x="393.7" y="583.1" width="16.6" height="17.7" fill="#fda692"/><rect x="410" y="583.1" width="16.6" height="17.7" fill="#c1d9f0"/><rect x="426.3" y="583.1" width="16.6" height="17.7" fill="#b4d2ed"/><rect x="442.6" y="583.1" width="16.6" height="17.7" fill="#fffbfa"/><rect x="458.9" y="583.1" width="16.6" height="17.7" fill="#febaaa"/><rect x="475.2" y="583.1" width="16.6" height="17.7" fill="#f3f7fc"/><rect x="51.4" y="600.5" width="16.6" height="17.7" fill="#c1d9f0"/><rect x="67.7" y="600.5" width="16.6" height="17.7" fill="#b4d2ed"/><rect x="84" y="600.5" width="16.6" height="17.7" fill="#cde1f3"/><rect x="100.3" y="600.5" width="16.6" height="17.7" fill="#e6f0f9"/><rect x="116.6" y="600.5" width="16.6" height="17.7" fill="#fec4b6"/><rect x="132.9" y="600.5" width="16.6" height="17.7" fill="#a8caea"/><rect x="149.2" y="600.5" width="16.6" height="17.7" fill="#3585ce"/><rect x="165.5" y="600.5" width="16.6" height="17.7" fill="#fb3a0c"/><rect x="181.8" y="600.5" width="16.6" height="17.7" fill="#8fbbe4"/><rect x="198.1" y="600.5" width="16.6" height="17.7" fill="#8fbbe4"/><rect x="214.4" y="600.5" width="16.6" height="17.7" fill="#297dcb"/><rect x="230.7" y="600.5" width="16.6" height="17.7" fill="#297dcb"/><rect x="247" y="600.5" width="16.6" height="17.7" fill="#106ec4"/><rect x="279.6" y="600.5" width="16.6" height="17.7" fill="#3585ce"/><rect x="295.9" y="600.5" width="16.6" height="17.7" fill="#297dcb"/><rect x="312.2" y="600.5" width="16.6" height="17.7" fill="#3585ce"/><rect x="328.5" y="600.5" width="16.6" height="17.7" fill="#cde1f3"/><rect x="344.8" y="600.5" width="16.6" height="17.7" fill="#fd9c86"/><rect x="361.1" y="600.5" width="16.6" height="17.7" fill="#0668c2"/><rect x="377.4" y="600.5" width="16.6" height="17.7" fill="#b4d2ed"/><rect x="393.7" y="600.5" width="16.6" height="17.7" fill="#9bc3e7"/><rect x="410" y="600.5" width="16.6" height="17.7" fill="#dae8f6"/><rect x="426.3" y="600.5" width="16.6" height="17.7" fill="#eef4fb"/><rect x="442.6" y="600.5" width="16.6" height="17.7" fill="#b4d2ed"/><rect x="458.9" y="600.5" width="16.6" height="17.7" fill="#8fbbe4"/><rect x="475.2" y="600.5" width="16.6" height="17.7" fill="#e6f0f9"/><rect x="51.4" y="617.9" width="16.6" height="17.7" fill="#e6f0f9"/><rect x="67.7" y="617.9" width="16.6" height="17.7" fill="#8fbbe4"/><rect x="84" y="617.9" width="16.6" height="17.7" fill="#b4d2ed"/><rect x="100.3" y="617.9" width="16.6" height="17.7" fill="#eef4fb"/><rect x="116.6" y="617.9" width="16.6" height="17.7" fill="#cde1f3"/><rect x="132.9" y="617.9" width="16.6" height="17.7" fill="#9bc3e7"/><rect x="149.2" y="617.9" width="16.6" height="17.7" fill="#c1d9f0"/><rect x="165.5" y="617.9" width="16.6" height="17.7" fill="#0668c2"/><rect x="181.8" y="617.9" width="16.6" height="17.7" fill="#fd9c86"/><rect x="198.1" y="617.9" width="16.6" height="17.7" fill="#cde1f3"/><rect x="214.4" y="617.9" width="16.6" height="17.7" fill="#297dcb"/><rect x="230.7" y="617.9" width="16.6" height="17.7" fill="#297dcb"/><rect x="247" y="617.9" width="16.6" height="17.7" fill="#5d9dd7"/><rect x="279.6" y="617.9" width="16.6" height="17.7" fill="#1c76c7"/><rect x="295.9" y="617.9" width="16.6" height="17.7" fill="#3585ce"/><rect x="312.2" y="617.9" width="16.6" height="17.7" fill="#428cd1"/><rect x="328.5" y="617.9" width="16.6" height="17.7" fill="#8fbbe4"/><rect x="344.8" y="617.9" width="16.6" height="17.7" fill="#9bc3e7"/><rect x="361.1" y="617.9" width="16.6" height="17.7" fill="#fb4418"/><rect x="377.4" y="617.9" width="16.6" height="17.7" fill="#3585ce"/><rect x="393.7" y="617.9" width="16.6" height="17.7" fill="#9bc3e7"/><rect x="410" y="617.9" width="16.6" height="17.7" fill="#fec4b6"/><rect x="426.3" y="617.9" width="16.6" height="17.7" fill="#cde1f3"/><rect x="442.6" y="617.9" width="16.6" height="17.7" fill="#c8def2"/><rect x="458.9" y="617.9" width="16.6" height="17.7" fill="#c1d9f0"/><rect x="475.2" y="617.9" width="16.6" height="17.7" fill="#c1d9f0"/><rect x="51.4" y="635.3" width="16.6" height="17.7" fill="#fafcfe"/><rect x="67.7" y="635.3" width="16.6" height="17.7" fill="#febaaa"/><rect x="84" y="635.3" width="16.6" height="17.7" fill="#ffffff"/><rect x="100.3" y="635.3" width="16.6" height="17.7" fill="#8fbbe4"/><rect x="116.6" y="635.3" width="16.6" height="17.7" fill="#cde1f3"/><rect x="132.9" y="635.3" width="16.6" height="17.7" fill="#fdb09e"/><rect x="149.2" y="635.3" width="16.6" height="17.7" fill="#fd9c86"/><rect x="165.5" y="635.3" width="16.6" height="17.7" fill="#297dcb"/><rect x="181.8" y="635.3" width="16.6" height="17.7" fill="#9bc3e7"/><rect x="198.1" y="635.3" width="16.6" height="17.7" fill="#fdb09e"/><rect x="214.4" y="635.3" width="16.6" height="17.7" fill="#3585ce"/><rect x="230.7" y="635.3" width="16.6" height="17.7" fill="#fb3a0c"/><rect x="247" y="635.3" width="16.6" height="17.7" fill="#1c76c7"/><rect x="279.6" y="635.3" width="16.6" height="17.7" fill="#fc613d"/><rect x="295.9" y="635.3" width="16.6" height="17.7" fill="#0668c2"/><rect x="312.2" y="635.3" width="16.6" height="17.7" fill="#fb3a0c"/><rect x="328.5" y="635.3" width="16.6" height="17.7" fill="#7eb0df"/><rect x="344.8" y="635.3" width="16.6" height="17.7" fill="#9bc3e7"/><rect x="361.1" y="635.3" width="16.6" height="17.7" fill="#428cd1"/><rect x="377.4" y="635.3" width="16.6" height="17.7" fill="#a8caea"/><rect x="393.7" y="635.3" width="16.6" height="17.7" fill="#b4d2ed"/><rect x="410" y="635.3" width="16.6" height="17.7" fill="#a8caea"/><rect x="426.3" y="635.3" width="16.6" height="17.7" fill="#fed8ce"/><rect x="442.6" y="635.3" width="16.6" height="17.7" fill="#fed8ce"/><rect x="458.9" y="635.3" width="16.6" height="17.7" fill="#cde1f3"/><rect x="475.2" y="635.3" width="16.6" height="17.7" fill="#fee1db"/>
<rect x="263.5" y="583.1" width="14.6" height="69.6" fill="#c0c0c0"/>
<rect x="51.4" y="583.1" width="16.3" height="17.4" fill="none" stroke="#000" stroke-width="1.1"/><rect x="84" y="583.1" width="16.3" height="17.4" fill="none" stroke="#000" stroke-width="1.1"/><rect x="100.3" y="583.1" width="16.3" height="17.4" fill="none" stroke="#000" stroke-width="1.1"/><rect x="214.4" y="583.1" width="16.3" height="17.4" fill="none" stroke="#000" stroke-width="1.1"/><rect x="247" y="583.1" width="16.3" height="17.4" fill="none" stroke="#000" stroke-width="1.1"/><rect x="295.9" y="583.1" width="16.3" height="17.4" fill="none" stroke="#000" stroke-width="1.1"/><rect x="328.5" y="583.1" width="16.3" height="17.4" fill="none" stroke="#000" stroke-width="1.1"/><rect x="377.4" y="583.1" width="16.3" height="17.4" fill="none" stroke="#000" stroke-width="1.1"/><rect x="393.7" y="583.1" width="16.3" height="17.4" fill="none" stroke="#000" stroke-width="1.1"/><rect x="458.9" y="583.1" width="16.3" height="17.4" fill="none" stroke="#000" stroke-width="1.1"/><rect x="116.6" y="600.5" width="16.3" height="17.4" fill="none" stroke="#000" stroke-width="1.1"/><rect x="165.5" y="600.5" width="16.3" height="17.4" fill="none" stroke="#000" stroke-width="1.1"/><rect x="344.8" y="600.5" width="16.3" height="17.4" fill="none" stroke="#000" stroke-width="1.1"/><rect x="181.8" y="617.9" width="16.3" height="17.4" fill="none" stroke="#000" stroke-width="1.1"/><rect x="361.1" y="617.9" width="16.3" height="17.4" fill="none" stroke="#000" stroke-width="1.1"/><rect x="410" y="617.9" width="16.3" height="17.4" fill="none" stroke="#000" stroke-width="1.1"/><rect x="67.7" y="635.3" width="16.3" height="17.4" fill="none" stroke="#000" stroke-width="1.1"/><rect x="132.9" y="635.3" width="16.3" height="17.4" fill="none" stroke="#000" stroke-width="1.1"/><rect x="149.2" y="635.3" width="16.3" height="17.4" fill="none" stroke="#000" stroke-width="1.1"/><rect x="198.1" y="635.3" width="16.3" height="17.4" fill="none" stroke="#000" stroke-width="1.1"/><rect x="230.7" y="635.3" width="16.3" height="17.4" fill="none" stroke="#000" stroke-width="1.1"/><rect x="279.6" y="635.3" width="16.3" height="17.4" fill="none" stroke="#000" stroke-width="1.1"/><rect x="312.2" y="635.3" width="16.3" height="17.4" fill="none" stroke="#000" stroke-width="1.1"/><rect x="426.3" y="635.3" width="16.3" height="17.4" fill="none" stroke="#000" stroke-width="1.1"/><rect x="442.6" y="635.3" width="16.3" height="17.4" fill="none" stroke="#000" stroke-width="1.1"/><rect x="475.2" y="635.3" width="16.3" height="17.4" fill="none" stroke="#000" stroke-width="1.1"/>
<text x="59.55" y="666.4" text-anchor="middle">17</text>
<text x="75.85" y="666.4" text-anchor="middle">16</text>
<text x="92.15" y="666.4" text-anchor="middle">15</text>
<text x="108.45" y="666.4" text-anchor="middle">14</text>
<text x="124.75" y="666.4" text-anchor="middle">13</text>
<text x="141.05" y="666.4" text-anchor="middle">12</text>
<text x="157.35" y="666.4" text-anchor="middle">11</text>
<text x="173.65" y="666.4" text-anchor="middle">10</text>
<text x="189.95" y="666.4" text-anchor="middle">9</text>
<text x="206.25" y="666.4" text-anchor="middle">8</text>
<text x="222.55" y="666.4" text-anchor="middle">7</text>
<text x="238.85" y="666.4" text-anchor="middle">6</text>
<text x="255.15" y="666.4" text-anchor="middle">5</text>
<text x="287.75" y="666.4" text-anchor="middle">5′</text>
<text x="304.05" y="666.4" text-anchor="middle">6′</text>
<text x="320.35" y="666.4" text-anchor="middle">7′</text>
<text x="336.65" y="666.4" text-anchor="middle">8′</text>
<text x="352.95" y="666.4" text-anchor="middle">9′</text>
<text x="369.25" y="666.4" text-anchor="middle">10′</text>
<text x="385.55" y="666.4" text-anchor="middle">11′</text>
<text x="401.85" y="666.4" text-anchor="middle">12′</text>
<text x="418.15" y="666.4" text-anchor="middle">13′</text>
<text x="434.45" y="666.4" text-anchor="middle">14′</text>
<text x="450.75" y="666.4" text-anchor="middle">15′</text>
<text x="467.05" y="666.4" text-anchor="middle">16′</text>
<text x="483.35" y="666.4" text-anchor="middle">17′</text>
<text x="272.2" y="682.4" text-anchor="middle">Half-site position</text>
</g>
</svg></body></html>
